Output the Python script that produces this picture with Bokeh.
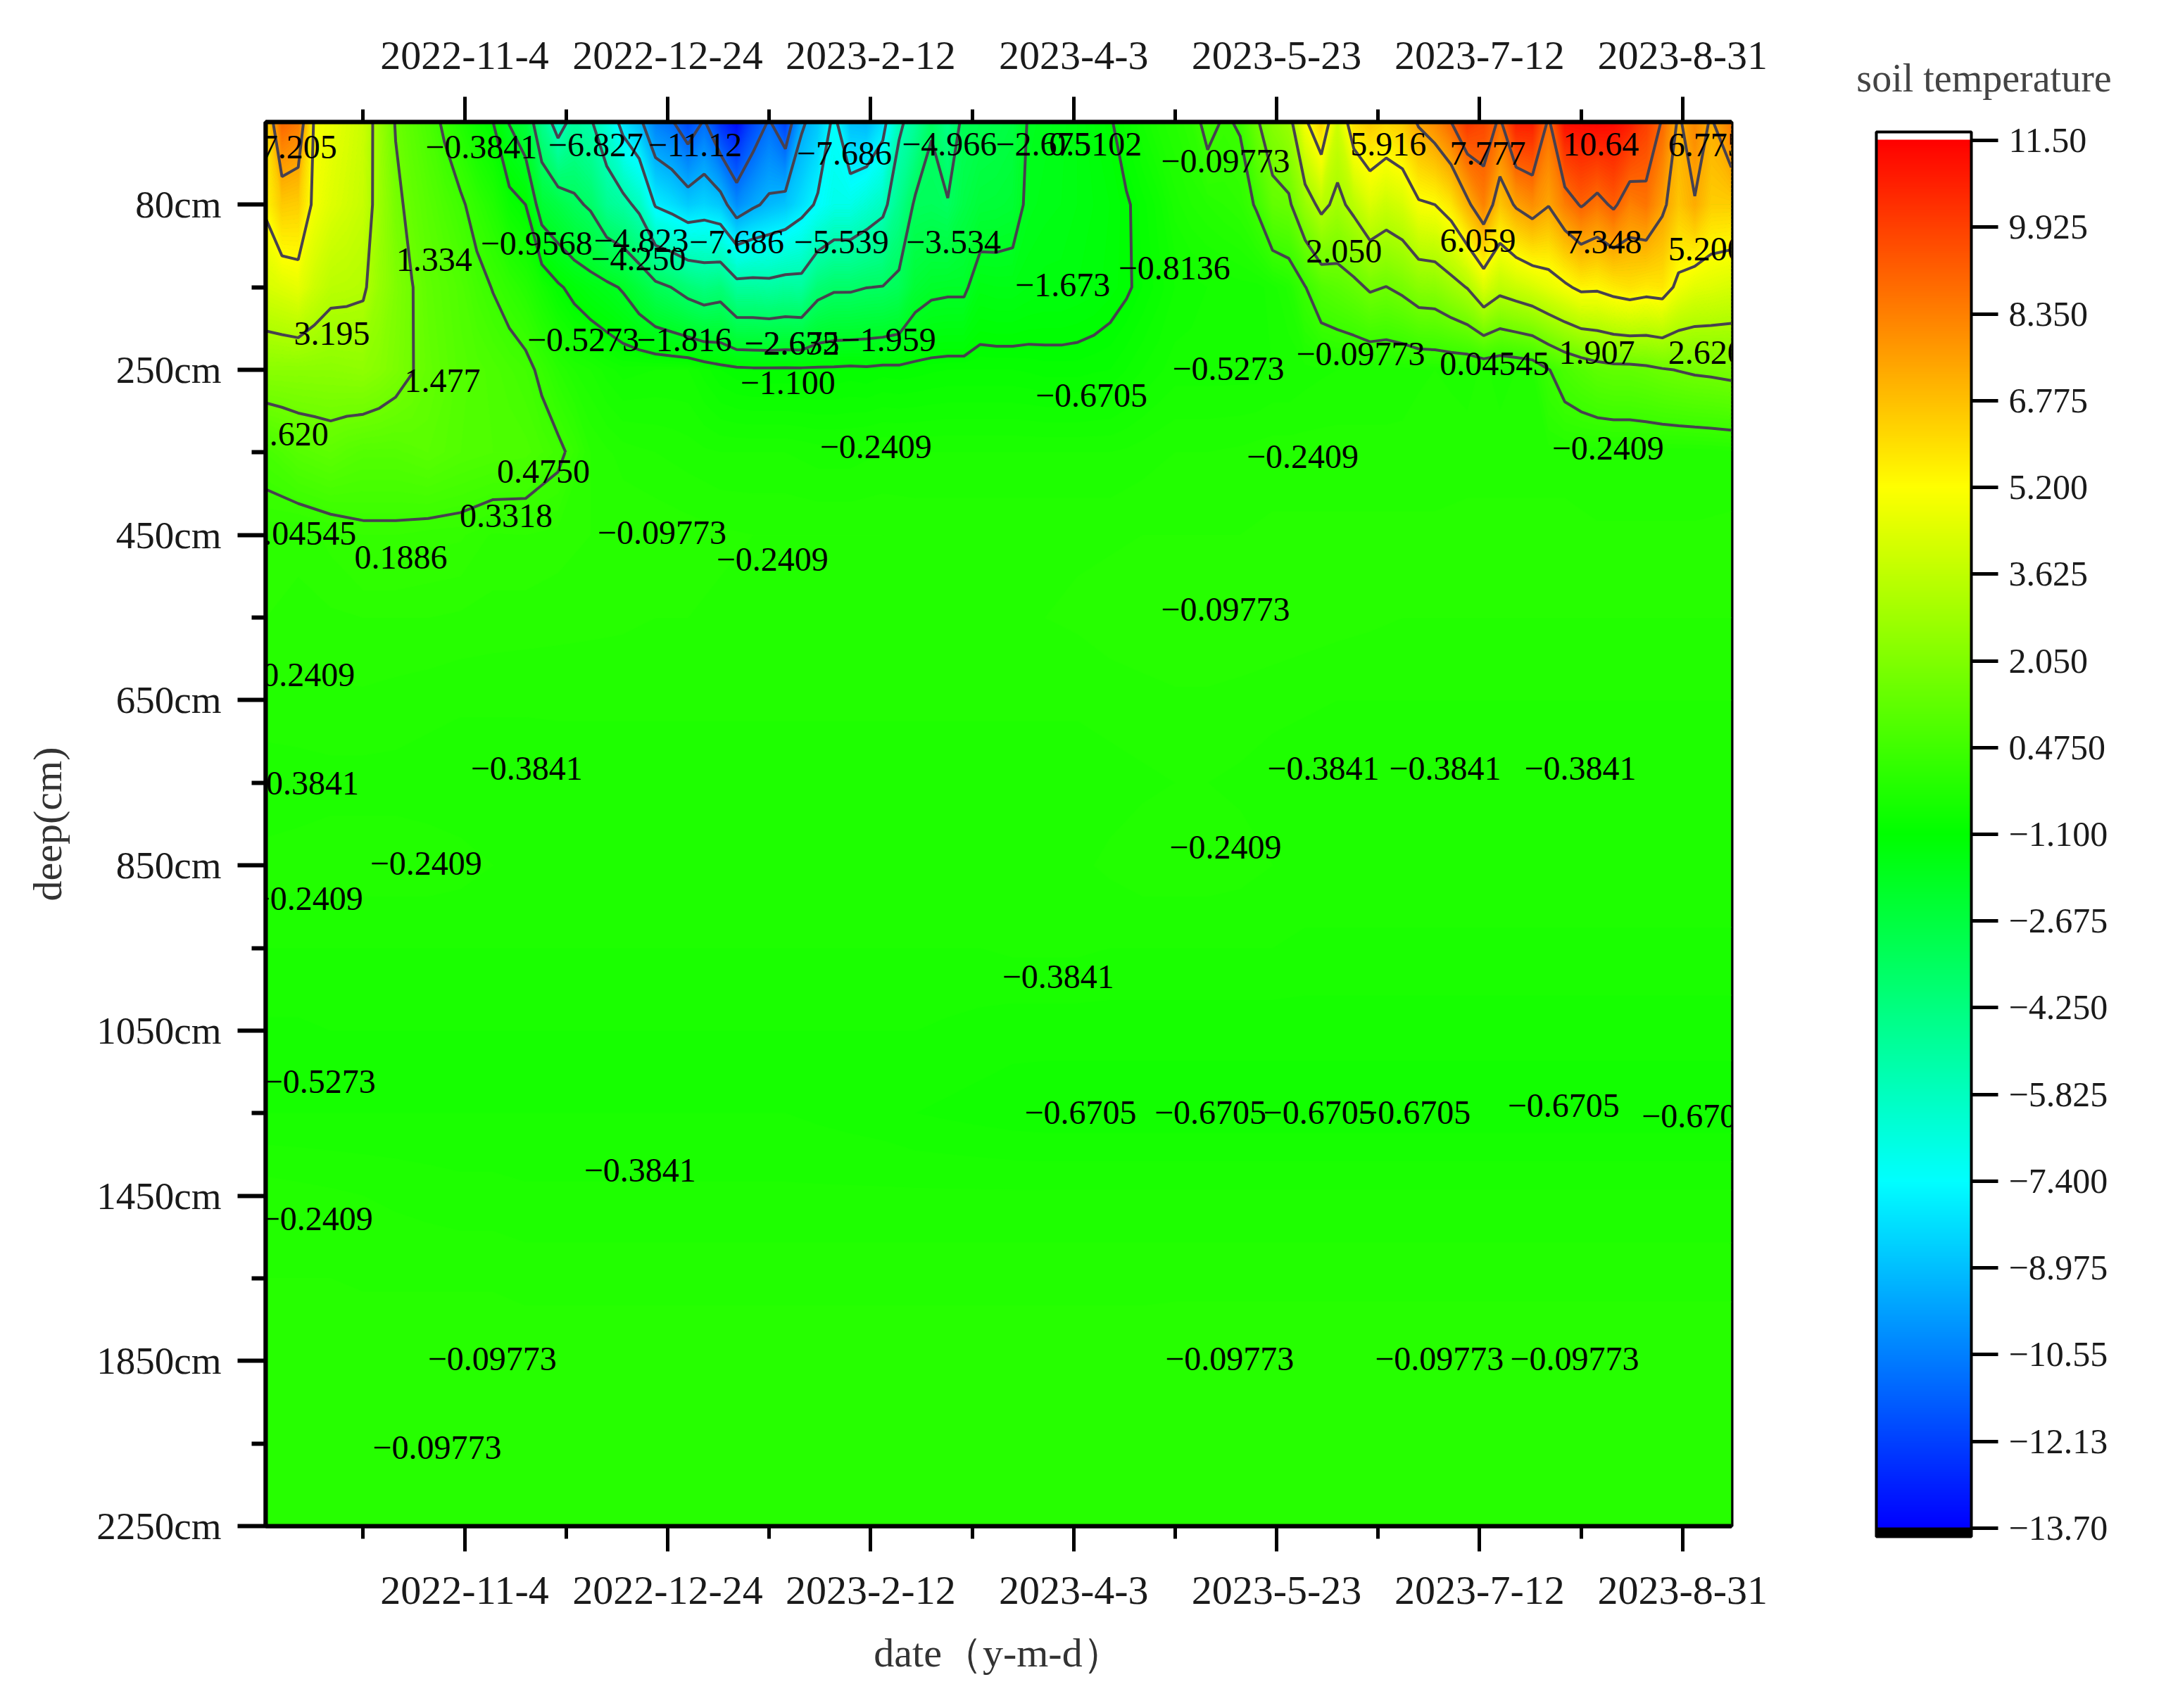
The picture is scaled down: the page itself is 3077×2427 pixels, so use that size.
from bokeh.plotting import figure
from bokeh.layouts import row
from bokeh.embed import file_html
from bokeh.resources import INLINE
from bokeh.models import Range1d, FixedTicker, LinearAxis, LinearColorMapper, ColorBar, AllLabels
from bokeh.core.properties import value
import numpy as np

SERIF = "Liberation Serif"

# upper soil layers (rows 0-4): read every 4 days, days after 2022-09-16
top_days = [0,4,8,12,16,20,24,28,32,36,40,44,48,52,56,60,64,68,72,76,80,84,88,92,96,100,104,108,112,116,120,124,128,132,136,140,144,148,152,156,160,164,168,172,176,180,184,188,192,196,200,204,208,212,216,220,224,228,232,236,240,244,248,252,256,260,264,268,272,276,280,284,288,292,296,300,304,308,312,316,320,324,328,332,336,340,344,348,352,356,361]
top_rows = [0, 1, 2, 3, 4]
t00 = [6.0,9.0,8.5,5.0,4.7,4.3,3.9,2.7,1.55,1.1,.7,.2,-.3,-.8,-1.1,-2.0,-2.6,-4.6,-6.2,-5.0,-5.4,-6.5,-8.2,-9.1,-10.6,-11.0,-12.0,-11.0,-12.6,-13.5,-12.0,-11.0,-12.2,-9.6,-8.8,-7.4,-9.0,-9.2,-8.2,-5.8,-4.9,-3.6,-4.5,-3.2,-3.0,-2.9,-2.7,-1.85,-1.75,-1.65,-1.5,-1.3,-1.15,-.85,-.6,-.35,-.2,0.0,.6,.25,.4,1.5,2.2,2.7,5.0,6.3,4.0,6.0,6.5,6.2,6.5,7.5,8.1,9.0,10.2,9.8,8.8,10.8,10.8,8.8,11.2,11.3,11.4,11.3,10.8,10.0,8.9,7.15,8.2,7.2,8.5]
t01 = [5.4,6.5,6.4,4.9,4.4,4.1,3.8,2.75,1.85,1.35,1.05,.75,.45,.05,-.3,-.85,-1.1,-2.4,-2.8,-3.3,-3.7,-4.7,-5.1,-5.9,-7.8,-8.2,-8.7,-8.46,-8.8,-10.25,-9.6,-9.15,-8.86,-8.2,-7.5,-6.9,-6.9,-6.4,-5.9,-4.6,-3.35,-3.3,-3.45,-2.85,-2.5,-2.45,-2.35,-1.75,-1.65,-1.6,-1.5,-1.4,-1.3,-1.15,-.95,-.75,-.45,-.3,-.2,-.1,0,.4,1.3,1.45,2.6,3.5,2.9,3.5,4.3,3.9,4.2,5.05,5.2,5.8,7.1,8.3,6.6,7.5,8.0,7.4,8.4,9.1,8.6,9.2,8.3,8.6,7.6,6.6,7.25,6.4,6.4]
t02 = [4.2,4.4,4.6,3.95,3.5,3.45,3.35,2.6,2.05,1.65,1.25,1.05,.85,.55,.3,.05,-.2,-.6,-1.0,-1.3,-1.55,-1.75,-2.05,-2.6,-3.2,-3.55,-4.0,-4.3,-4.1,-5.0,-5.0,-5.1,-4.94,-5.0,-4.0,-3.7,-3.7,-3.55,-3.5,-3.25,-2.4,-2.15,-2.1,-2.1,-1.55,-1.6,-1.6,-1.5,-1.45,-1.45,-1.4,-1.35,-1.25,-1.15,-1.0,-.85,-.7,-.65,-.6,-.58,-.55,-.55,-.45,-.27,.3,.9,1.1,1.35,1.75,1.6,1.85,2.25,2.3,2.75,3.25,4.3,3.6,3.9,4.2,4.6,5.0,5.45,5.4,5.7,5.9,5.7,5.8,4.9,4.5,4.4,4.2]
t03 = [2.3,2.3,2.3,2.3,2.3,2.35,2.4,2.2,1.95,1.65,1.35,1.15,.95,.85,.75,.62,.5,.2,-.1,-.3,-.4,-.55,-.65,-.62,-.6,-.6,-.6,-.75,-.9,-.97,-1.0,-1.0,-1.0,-1.0,-1.0,-1.0,-.97,-1.0,-.95,-.97,-.95,-.92,-.9,-.9,-.9,-.9,-.9,-.92,-.95,-.95,-.95,-.92,-.9,-.8,-.7,-.62,-.55,-.55,-.55,-.55,-.55,-.55,-.5,-.5,-.45,-.42,-.4,-.4,-.4,-.4,-.38,-.32,-.3,-.32,-.35,-.28,-.35,-.3,-.2,.3,.7,.95,1.2,1.3,1.3,1.4,1.55,1.65,1.75,1.8,1.9]
t04 = [.6,.8,1.0,1.1,1.2,1.05,.95,.95,.95,1.05,1.1,1.0,.9,.85,.8,.8,.75,.62,.45,.2,-.1,-.18,-.25,-.28,-.3,-.32,-.35,-.38,-.4,-.4,-.4,-.4,-.4,-.42,-.45,-.45,-.45,-.42,-.4,-.4,-.4,-.4,-.4,-.4,-.4,-.4,-.4,-.4,-.4,-.4,-.4,-.4,-.4,-.38,-.35,-.32,-.3,-.3,-.3,-.29,-.28,-.26,-.25,-.25,-.25,-.25,-.25,-.25,-.25,-.25,-.25,-.25,-.25,-.25,-.25,-.25,-.25,-.25,-.25,-.25,-.25,-.27,-.3,-.3,-.3,-.3,-.3,-.3,-.3,-.28,-.25]

# deeper soil layers (rows 4-17): read every 8 days
deep_days = [0, 8, 16, 24, 32, 40, 48, 56, 64, 72, 80, 88, 96, 104, 112, 120, 128, 136, 144, 152, 160, 168, 176,
             184, 192, 200, 208, 216, 224, 232, 240, 248, 256, 264, 272, 280, 288, 296, 304, 312, 320, 328, 336,
             344, 352, 361]
deep_rows = [4, 5, 6, 7, 8, 9, 10, 11, 12, 13, 14, 15, 16, 17]
r04 = [.6,1.0,1.2,.95,.95,1.1,.9,.8,.75,.45,-.1,-.25,-.3,-.35,-.4,-.4,-.4,-.45,-.45,-.4,-.4,-.4,-.4,-.4,-.4,-.4,-.4,-.35,-.3,-.3,-.28,-.25,-.25,-.25,-.25,-.25,-.25,-.25,-.25,-.25,-.25,-.3,-.3,-.3,-.3,-.25]
r05 = [0.0,-.08,.04,.2,.2,.14,.12,-.02,0.0,-.05,-.1,-.1,-.12,-.15,-.18,-.2,-.2,-.2,-.2,-.2,-.22,-.22,-.22,-.22,-.22,-.22,-.22,-.2,-.2,-.2,-.2,-.18,-.18,-.18,-.18,-.18,-.18,-.16,-.16,-.16,-.16,-.18,-.18,-.18,-.18,-.18]
r06 = [-.1,-.12,-.12,-.1,-.1,-.1,-.12,-.14,-.15,-.16,-.17,-.18,-.2,-.2,-.22,-.24,-.24,-.24,-.24,-.24,-.24,-.24,-.22,-.22,-.2,-.18,-.14,-.12,-.1,-.1,-.1,-.12,-.14,-.16,-.18,-.2,-.2,-.2,-.2,-.2,-.2,-.2,-.2,-.2,-.2,-.2]
r07 = [-.22,-.22,-.22,-.22,-.24,-.26,-.28,-.28,-.28,-.28,-.28,-.28,-.28,-.28,-.28,-.28,-.28,-.28,-.28,-.28,-.28,-.28,-.28,-.28,-.28,-.28,-.26,-.24,-.22,-.22,-.24,-.26,-.28,-.3,-.3,-.3,-.3,-.3,-.3,-.3,-.3,-.3,-.3,-.3,-.3,-.3]
r08 = [-.38,-.36,-.34,-.34,-.34,-.36,-.38,-.38,-.38,-.36,-.36,-.36,-.36,-.36,-.36,-.36,-.36,-.36,-.36,-.36,-.36,-.36,-.36,-.36,-.36,-.36,-.34,-.32,-.3,-.3,-.32,-.36,-.38,-.38,-.38,-.38,-.38,-.38,-.38,-.38,-.38,-.38,-.38,-.38,-.38,-.38]
r09 = [-.26,-.25,-.24,-.24,-.24,-.24,-.26,-.3,-.34,-.34,-.34,-.34,-.34,-.34,-.34,-.34,-.34,-.34,-.34,-.34,-.34,-.34,-.34,-.34,-.34,-.32,-.28,-.24,-.24,-.24,-.26,-.3,-.34,-.34,-.34,-.34,-.34,-.34,-.34,-.34,-.34,-.34,-.34,-.34,-.34,-.34]
r10 = [-.4,-.4,-.4,-.4,-.4,-.4,-.4,-.4,-.4,-.4,-.4,-.4,-.4,-.4,-.4,-.4,-.4,-.4,-.4,-.4,-.4,-.4,-.4,-.38,-.38,-.38,-.4,-.4,-.4,-.4,-.4,-.4,-.42,-.42,-.42,-.42,-.42,-.42,-.42,-.42,-.42,-.42,-.42,-.42,-.42,-.42]
r11 = [-.52,-.52,-.5,-.5,-.5,-.5,-.5,-.5,-.5,-.5,-.5,-.5,-.5,-.5,-.5,-.5,-.5,-.5,-.5,-.5,-.5,-.52,-.54,-.56,-.56,-.56,-.56,-.56,-.56,-.56,-.56,-.56,-.56,-.56,-.56,-.56,-.56,-.56,-.56,-.56,-.56,-.56,-.56,-.56,-.56,-.56]
r12 = [-.5,-.5,-.5,-.5,-.5,-.5,-.5,-.5,-.5,-.5,-.5,-.5,-.5,-.5,-.5,-.5,-.5,-.52,-.54,-.56,-.6,-.62,-.64,-.66,-.67,-.67,-.67,-.67,-.67,-.67,-.67,-.67,-.67,-.67,-.67,-.67,-.67,-.67,-.67,-.67,-.67,-.67,-.67,-.67,-.67,-.67]
r13 = [-.24,-.26,-.28,-.3,-.32,-.34,-.36,-.36,-.38,-.38,-.38,-.38,-.38,-.38,-.38,-.38,-.38,-.38,-.38,-.38,-.38,-.38,-.38,-.38,-.38,-.38,-.38,-.38,-.38,-.38,-.38,-.38,-.38,-.38,-.38,-.38,-.38,-.38,-.38,-.38,-.38,-.38,-.38,-.38,-.38,-.38]
r14 = [-.2,-.2,-.2,-.22,-.22,-.22,-.22,-.22,-.24,-.24,-.24,-.24,-.24,-.24,-.24,-.24,-.24,-.24,-.24,-.24,-.24,-.24,-.24,-.24,-.24,-.24,-.24,-.24,-.24,-.24,-.24,-.24,-.24,-.24,-.24,-.24,-.24,-.24,-.24,-.24,-.24,-.24,-.24,-.24,-.24,-.24]
r15 = [-.14,-.12,-.1,-.1,-.1,-.1,-.1,-.1,-.12,-.12,-.12,-.12,-.12,-.12,-.12,-.12,-.12,-.12,-.12,-.12,-.12,-.12,-.12,-.12,-.12,-.12,-.12,-.12,-.1,-.1,-.1,-.1,-.1,-.1,-.1,-.1,-.1,-.1,-.1,-.1,-.1,-.1,-.1,-.1,-.1,-.1]
r16 = [-.12,-.1,-.1,-.1,-.1,-.1,-.1,-.12,-.14,-.14,-.14,-.14,-.14,-.14,-.14,-.14,-.14,-.14,-.14,-.14,-.14,-.14,-.14,-.14,-.14,-.14,-.14,-.14,-.14,-.14,-.14,-.14,-.14,-.14,-.14,-.14,-.14,-.14,-.14,-.14,-.14,-.14,-.14,-.14,-.14,-.14]
r17 = [-.16,-.16,-.16,-.16,-.16,-.16,-.16,-.16,-.16,-.16,-.16,-.16,-.16,-.16,-.16,-.16,-.16,-.16,-.16,-.16,-.16,-.16,-.16,-.16,-.16,-.16,-.16,-.16,-.16,-.16,-.16,-.16,-.16,-.16,-.16,-.16,-.16,-.16,-.16,-.16,-.16,-.16,-.16,-.16,-.16,-.16]

# tick labels
date_ticks = [49, 99, 149, 199, 249, 299, 349]
date_minor = [24, 74, 124, 174, 224, 274, 324]
date_labels = ["2022-11-4", "2022-12-24", "2023-2-12", "2023-4-3", "2023-5-23", "2023-7-12", "2023-8-31"]
depth_ticks = [1, 3, 5, 7, 9, 11, 13, 15, 17]
depth_minor = [2, 4, 6, 8, 10, 12, 14, 16]
depth_labels = ["80cm", "250cm", "450cm", "650cm", "850cm", "1050cm", "1450cm", "1850cm", "2250cm"]

# colour scale
scale_ticks = [11.5, 9.925, 8.35, 6.775, 5.2, 3.625, 2.05, 0.475, -1.1, -2.675, -4.25, -5.825, -7.4, -8.975, -10.55, -12.125, -13.7]
scale_labels = ["11.50", "9.925", "8.350", "6.775", "5.200", "3.625", "2.050", "0.4750", "\u22121.100", "\u22122.675",
                "\u22124.250", "\u22125.825", "\u22127.400", "\u22128.975", "\u221210.55", "\u221212.13", "\u221213.70"]
stop_values = [-13.7, -7.4, -1.1, 5.2, 11.5]
stop_colors = [(0, 0, 255), (0, 255, 255), (0, 255, 0), (255, 255, 0), (255, 0, 0)]

# levels of the drawn isolines
line_levels = [-11.12, -9.4, -7.686, -5.539, -3.534, -1.959, -1.1, 0.3318, 1.62, 3.195, 5.2, 7.348, 9.0]

# contour labels: text, day, row
label_text = ["7.205","−0.3841","−6.827","−11.12","−7.686","−4.966","−2.675","0.5102","−0.09773","5.916","7.777","10.64","6.775",
 "1.334","−0.9568","−4.823","−4.250","−7.686","−5.539","−3.534","−1.673","−0.8136","2.050","6.059","7.348","5.200",
 "3.195","−0.5273","−1.816","−2.675","−2.632","−1.959","1.477","−1.100","−0.6705","−0.5273","−0.09773","0.04545","1.907","2.620",
 "1.620","0.4750","−0.2409","−0.2409","−0.2409","0.3318","0.04545","0.1886","−0.09773","−0.2409","−0.09773",
 "−0.2409","−0.3841","−0.3841","−0.3841","−0.3841","−0.3841","−0.2409","−0.2409","−0.2409","−0.3841","−0.5273",
 "−0.6705","−0.6705","−0.6705","−0.6705","−0.6705","−0.6705","−0.3841","−0.2409","−0.09773","−0.09773","−0.09773","−0.09773","−0.09773"]
label_day = [8.2,53.1,81.3,105.8,142.5,168.4,191.5,204.4,236.4,276.5,301,328.9,354.8,
 41.5,66.7,92.5,91.8,116,141.8,169.4,196.3,223.8,265.6,298.6,329.6,354.8,
 16.3,78.2,103.1,129.6,129.6,153.4,43.5,128.6,203.4,237.1,269.7,302.7,327.9,354.8,
 6.1,68.4,150.3,255.4,330.6,59.2,8.8,33.3,97.6,124.8,236.4,
 8.2,9.2,64.3,260.5,290.5,323.8,39.5,236.4,10.2,195.2,13.3,
 200.7,232.7,259.5,283,319.7,352.7,92.2,12.6,55.8,237.4,289.1,322.4,42.2]
label_row = [.30,.30,.28,.28,.38,.27,.27,.27,.47,.27,.38,.27,.28,
 1.67,1.47,1.44,1.66,1.45,1.45,1.45,1.97,1.77,1.56,1.44,1.45,1.54,
 2.56,2.64,2.64,2.68,2.68,2.64,3.13,3.16,3.31,2.99,2.81,2.93,2.79,2.79,
 3.78,4.23,3.93,4.05,3.95,4.77,4.98,5.27,4.97,5.30,5.90,
 6.69,8.01,7.83,7.83,7.83,7.83,8.98,8.78,9.40,10.35,11.62,
 11.99,11.99,11.99,11.99,11.91,12.04,12.69,13.28,14.98,14.98,14.98,14.98,16.05]

z_top = np.array([t00, t01, t02, t03, t04])
z_deep = np.array([r04, r05, r06, r07, r08, r09, r10, r11, r12, r13, r14, r15, r16, r17])


def rainbow(v):
    for a, b, ca, cb in zip(stop_values[:-1], stop_values[1:], stop_colors[:-1], stop_colors[1:]):
        if v <= b:
            t = max(0.0, (v - a) / (b - a))
            return "#%02x%02x%02x" % tuple(int(round(p + (q - p) * t)) for p, q in zip(ca, cb))
    return "#%02x%02x%02x" % stop_colors[-1]


p = figure(width=2600, height=2420, output_backend="svg", toolbar_location=None,
           x_range=Range1d(0, 361), y_range=Range1d(17, 0),
           x_axis_location="below", y_axis_location="left",
           min_border_left=377, min_border_right=141, min_border_top=173, min_border_bottom=252,
           background_fill_color="#23ff00", border_fill_color="white", frame_align=False)
p.grid.visible = False
p.outline_line_color = "black"
p.outline_line_width = 6

# filled field
fill_levels = list(np.linspace(-13.7, 11.5, 253))
fill_cols = [rainbow((a + b) / 2) for a, b in zip(fill_levels[:-1], fill_levels[1:])]
for days, rows, field in ((top_days, top_rows, z_top), (deep_days, deep_rows, z_deep)):
    p.contour(days, rows, field, levels=fill_levels, fill_color=fill_cols,
              line_color=fill_cols + [fill_cols[-1]], line_width=1.2)
# isolines
for days, rows, field in ((top_days, top_rows, z_top), (deep_days, deep_rows, z_deep)):
    p.contour(days, rows, field, levels=line_levels, line_color="#47414f", line_width=4)

p.text(label_day, label_row, text=label_text, text_font=value(SERIF), text_font_size="48px",
       text_align="center", text_baseline="middle", text_color="black")


def style_x(ax, standoff):
    ax.ticker = FixedTicker(ticks=date_ticks, minor_ticks=date_minor)
    ax.major_label_overrides = dict(zip(date_ticks, date_labels))
    ax.major_label_text_font = SERIF
    ax.major_label_text_font_size = "58px"
    ax.major_label_text_color = "#1a1a1a"
    ax.major_tick_in = 0
    ax.major_tick_out = 36
    ax.minor_tick_in = 0
    ax.minor_tick_out = 18
    ax.major_tick_line_width = 5
    ax.minor_tick_line_width = 5
    ax.axis_line_width = 6
    ax.major_label_standoff = standoff


xb = p.xaxis[0]
style_x(xb, 36)
xb.axis_label = "date（y-m-d）"
xb.axis_label_text_font = SERIF
xb.axis_label_text_font_style = "normal"
xb.axis_label_text_font_size = "58px"
xb.axis_label_text_color = "#333333"
xb.axis_label_standoff = 34

xt = LinearAxis()
style_x(xt, 40)
p.add_layout(xt, "above")

yl = p.yaxis[0]
yl.ticker = FixedTicker(ticks=depth_ticks, minor_ticks=depth_minor)
yl.major_label_overrides = dict(zip(depth_ticks, depth_labels))
yl.major_label_text_font = SERIF
yl.major_label_text_font_size = "55px"
yl.major_label_text_color = "#1a1a1a"
yl.major_tick_in = 0
yl.major_tick_out = 40
yl.minor_tick_in = 0
yl.minor_tick_out = 20
yl.major_tick_line_width = 6
yl.minor_tick_line_width = 6
yl.axis_line_width = 6
yl.major_label_standoff = 23
yl.axis_label = "deep(cm)"
yl.axis_label_text_font = SERIF
yl.axis_label_text_font_style = "normal"
yl.axis_label_text_font_size = "58px"
yl.axis_label_text_color = "#333333"
yl.axis_label_standoff = 34

# colour bar panel: black and white end bands beyond the scale
band = 0.154
step = 0.02
n = int(round((11.5 - (-13.7) + 2 * band) / step))
vals = [-13.7 - band + (i + 0.5) * step for i in range(n)]
pal = ["#000000" if v < -13.7 else ("#ffffff" if v > 11.5 else rainbow(v)) for v in vals]
mapper = LinearColorMapper(palette=pal, low=-13.7 - band, high=11.5 + band)

legend_fig = figure(width=470, height=2420, output_backend="svg", toolbar_location=None,
                    x_range=Range1d(0, 470), y_range=Range1d(2420, 0),
                    x_axis_type=None, y_axis_type=None,
                    min_border_left=0, min_border_right=0, min_border_top=0, min_border_bottom=0,
                    outline_line_color=None, background_fill_color="white", border_fill_color="white",
                    frame_align=False)
legend_fig.grid.visible = False
legend_fig.text([218], [110], text=["soil temperature"], text_font=value(SERIF), text_font_size="56px",
                text_color="#444444", text_align="center", text_baseline="middle")
cb = ColorBar(color_mapper=mapper, location=(65, 237), width=135, height=1996,
              ticker=FixedTicker(ticks=scale_ticks),
              major_label_overrides=dict(zip(scale_ticks, scale_labels)),
              major_label_policy=AllLabels(),
              major_label_text_font=SERIF, major_label_text_font_size="50px", major_label_text_color="#1a1a1a",
              major_tick_in=0, major_tick_out=38, major_tick_line_color="black", major_tick_line_width=5,
              minor_tick_line_color=None, bar_line_color="black", bar_line_width=4,
              label_standoff=15, padding=0, margin=0, background_fill_color=None, border_line_color=None)
legend_fig.add_layout(cb, "center")

page = row(p, legend_fig, spacing=0)
open("out.html", "w").write(file_html(page, INLINE))
